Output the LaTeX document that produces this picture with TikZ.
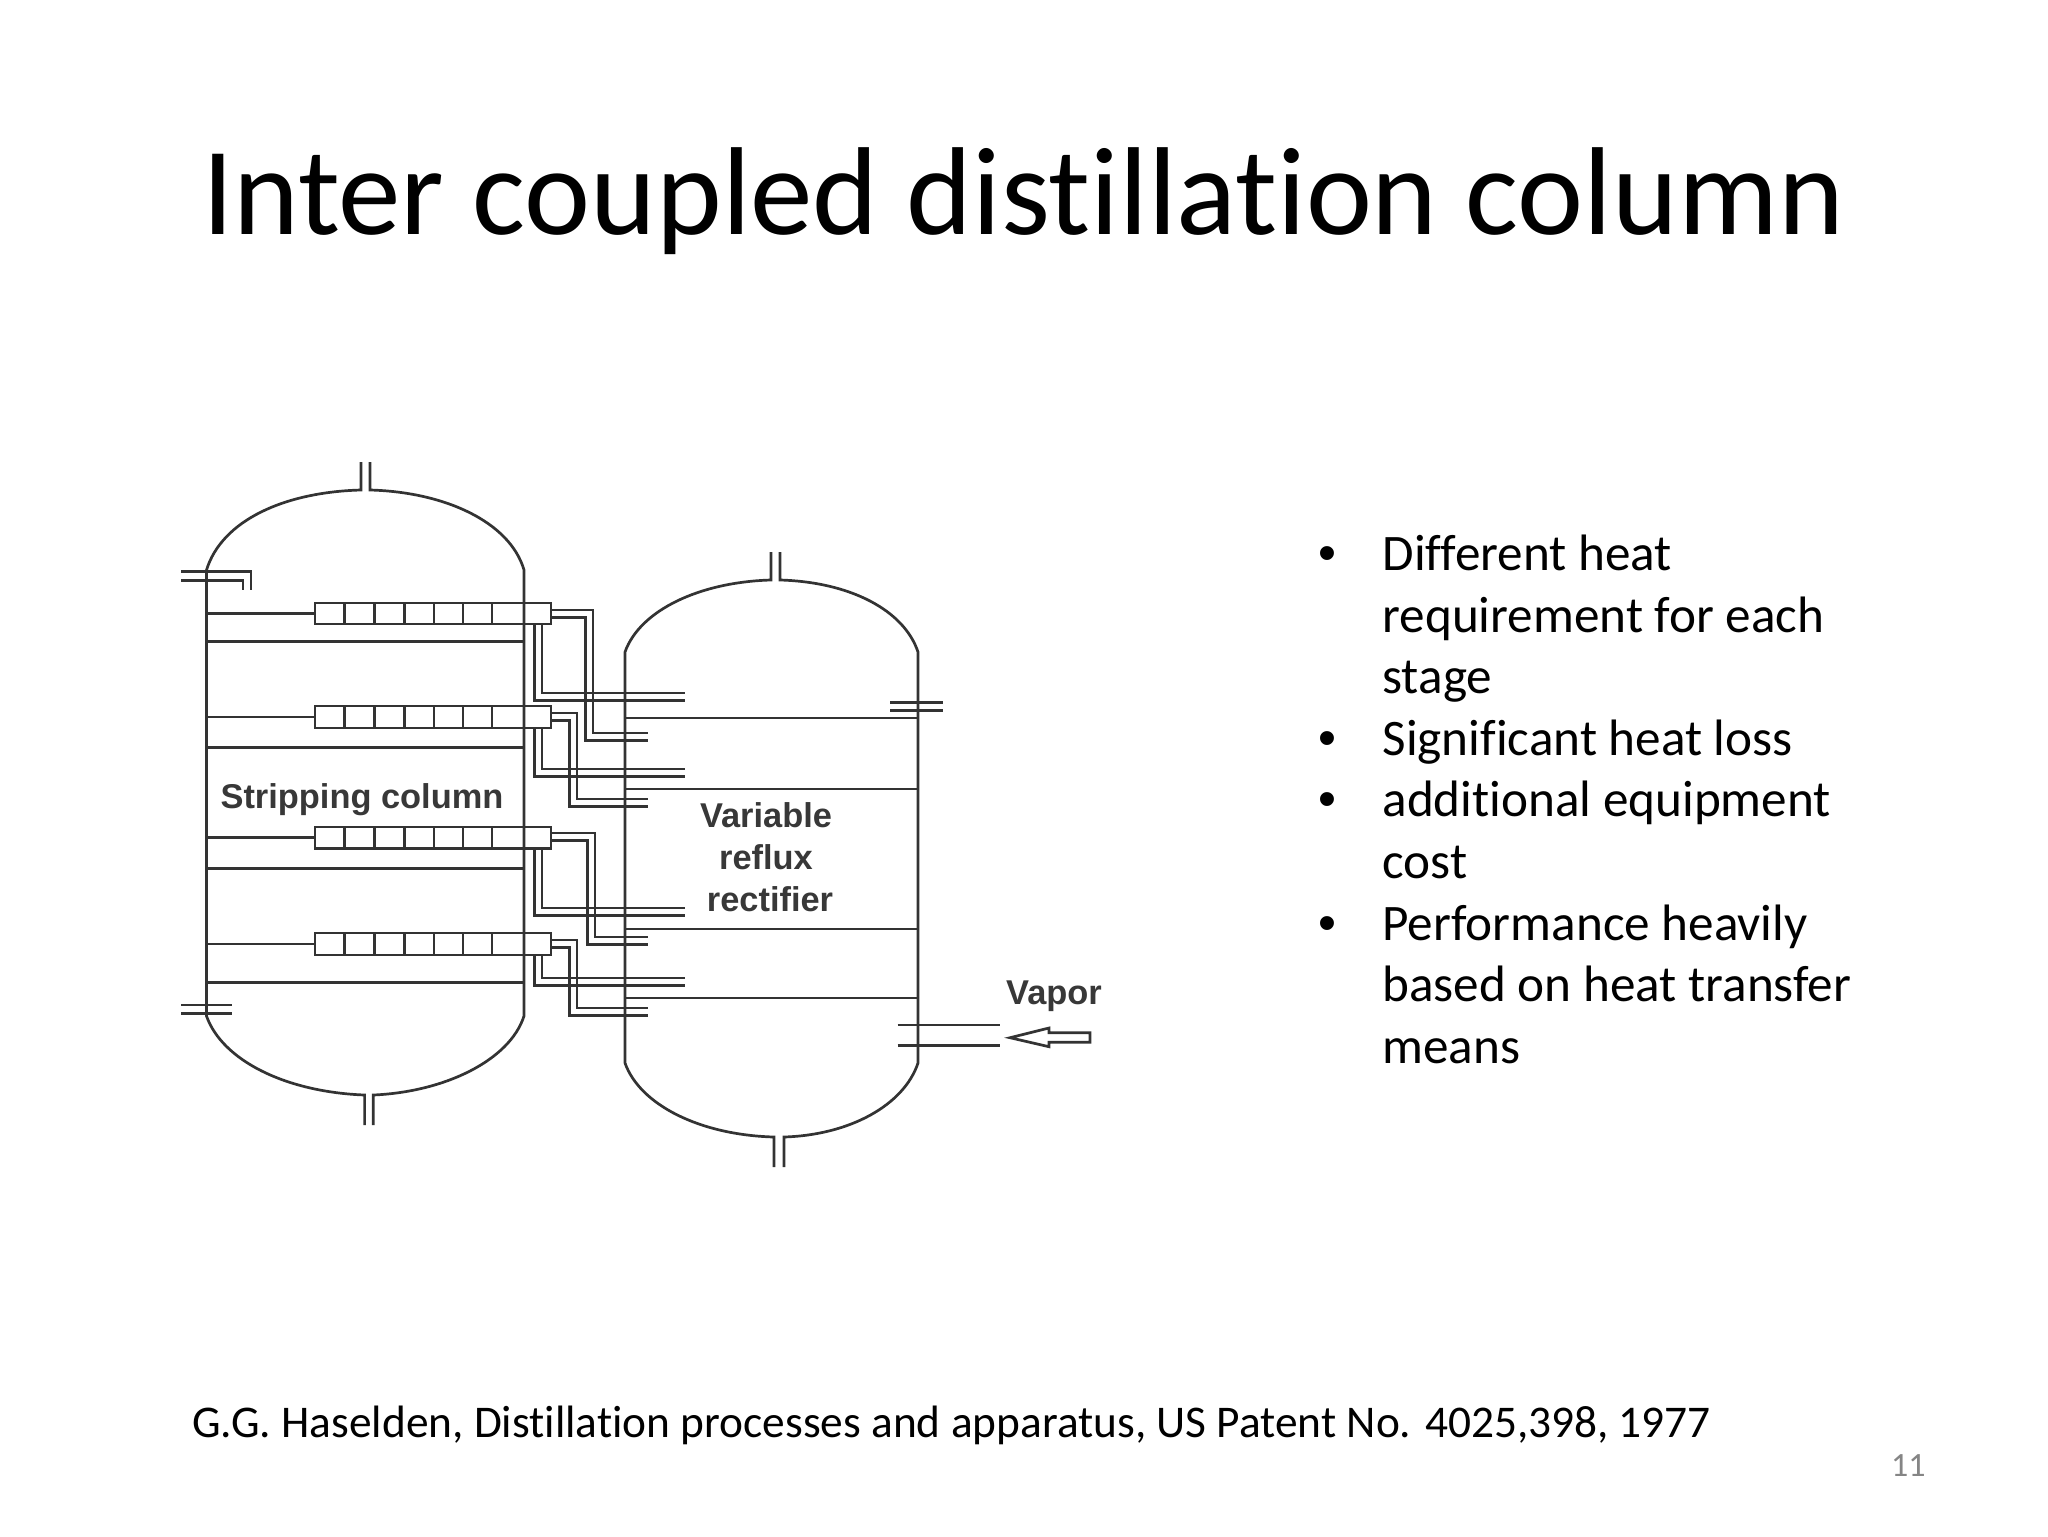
\documentclass[tikz,border=0pt]{standalone}
\usepackage{fontspec}
\setmainfont{Carlito}[Ligatures=CommonOff]
\newfontfamily\figfont{Liberation Sans}
\tikzset{
  ln/.style={draw=black!80,line width=1.35pt,line join=miter},
  slidetext/.style={anchor=base west,inner sep=0pt,outer sep=0pt,text=black},
  figlabel/.style={anchor=base,inner sep=0pt,outer sep=0pt,text=black!78,font=\figfont\bfseries\fontsize{17.2}{19}\selectfont},
}
\newcommand{\sievetray}[2]{%
  \draw[ln] (315,#1) rectangle (551,#2);
  \foreach \dx in {344.6,374.6,404.3,434,463,492} \draw[ln] (\dx,#1) -- (\dx,#2);
  \draw[ln] (206.5,{(#1+#2)/2}) -- (315,{(#1+#2)/2});
}
\newcommand{\tubes}[5]{%
  \draw[ln] (551,#1) -- (#2,#1) -- (#2,#3) -- (648,#3);
  \draw[ln] (551,{#1+7.7}) -- ({#2-7.7},{#1+7.7}) -- ({#2-7.7},{#3+7.7}) -- (648,{#3+7.7});
  \draw[ln] (542,#4) -- (542,#5) -- (685,#5);
  \draw[ln] (534.5,#4) -- (534.5,{#5+7.6}) -- (685,{#5+7.6});
}
\begin{document}
\begin{tikzpicture}[x=0.5pt,y=-0.5pt]
\useasboundingbox (0,0) rectangle (2048,1536);
\fill[white] (0,0) rectangle (2048,1536);
% stripping column
\draw[ln] (361,462) -- (361,490) .. controls (285,492) and (222,520) .. (206.5,570) -- (206.5,1016)
  .. controls (222,1060) and (285,1092) .. (364.6,1095) -- (364.6,1125);
\draw[ln] (370,462) -- (370,490) .. controls (445,492) and (510,522) .. (524,570) -- (524,1016)
  .. controls (510,1060) and (445,1092) .. (373.2,1095) -- (373.2,1125);
\draw[ln] (181,571.7) -- (251,571.7) -- (251,590);
\draw[ln] (181,580.7) -- (243,580.7) -- (243,590);
\draw[ln] (181,1005) -- (232,1005);
\draw[ln] (181,1013.3) -- (232,1013.3);
\foreach \py in {641.7,747.3,868.3,982.3} \draw[ln] (206.5,\py) -- (524,\py);
\sievetray{603}{624}
\sievetray{706}{728}
\sievetray{827}{848.5}
\sievetray{933}{955}
\node[figlabel] (strip) at (362,808) {Stripping column};
% rectifier
\draw[ln] (771,552) -- (771,580) .. controls (700,582) and (640,610) .. (625,652) -- (625,1063)
  .. controls (640,1105) and (700,1135) .. (774,1137) -- (774,1167);
\draw[ln] (780,552) -- (780,580) .. controls (850,582) and (904,610) .. (918,652) -- (918,1063)
  .. controls (904,1105) and (850,1135) .. (784,1137) -- (784,1167);
\foreach \py in {718,789,929,998} \draw[ln] (625,\py) -- (918,\py);
\draw[ln] (890,702.7) -- (943,702.7);
\draw[ln] (890,710.7) -- (943,710.7);
\draw[ln] (897.5,1025) -- (1000,1025);
\draw[ln] (897.5,1045.7) -- (1000,1045.7);
\tubes{610}{593}{733}{624}{693}
\tubes{713}{577}{799}{728}{769}
\tubes{833}{595}{937}{848.5}{908}
\tubes{940}{577}{1008}{955}{978}
\node[figlabel] (var) at (766,827) {Variable};
\node[figlabel] (ref) at (766,869) {reflux};
\node[figlabel] (rec) at (770,911) {rectifier};
\node[figlabel] (vap) at (1054,1004) {Vapor};
% vapor arrow
\draw[ln] (1010,1037.7) -- (1049,1028) -- (1049,1032.7) -- (1090,1032.7) -- (1090,1042.3) -- (1049,1042.3) -- (1049,1046.7) -- cycle;
% slide text
\node[slidetext,font=\fontsize{62.55}{70}\selectfont] (title) at (202,234) {Inter coupled distillation column};
\foreach \n/\yy/\tt in {a/570.5/Different heat,b/632.1/requirement for each,c/693.7/stage,d/755.3/Significant heat loss,e/816.9/additional equipment,f/878.5/cost,g/940.1/Performance heavily,h/1001.7/based on heat transfer,i/1063.3/means}
  \node[slidetext,font=\fontsize{25.6}{30}\selectfont] (body\n) at (1382.5,\yy) {\tt};
\foreach \n/\yy in {a/570.5,d/755.3,e/816.9,g/940.1}
  \node[slidetext,font=\figfont\fontsize{25.6}{30}\selectfont] (bul\n) at (1318.5,\yy) {•};
\node[slidetext,font=\fontsize{22.68}{28}\selectfont] (cite) at (192,1437) {G.G. Haselden, Distillation processes and apparatus, US Patent No. 4025,398, 1977};
\node[slidetext,text=black!48,font=\fontsize{17}{20}\selectfont] (pg) at (1891,1476) {11};
\end{tikzpicture}
\end{document}
